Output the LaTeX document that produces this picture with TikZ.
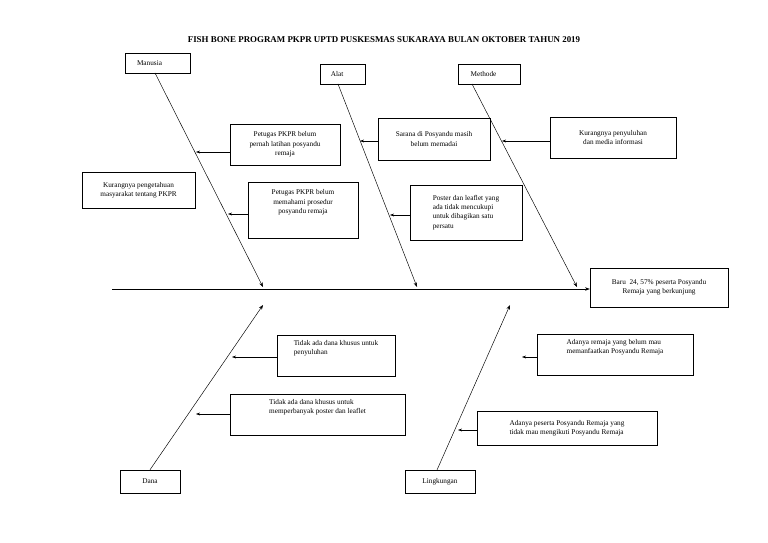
\documentclass[tikz,border=0pt]{standalone}
\usepackage{fontspec}
\setmainfont{Liberation Serif}
\usetikzlibrary{arrows.meta}
\tikzset{
  box/.style={draw,rectangle,inner sep=2pt,align=center,font=\fontsize{6.2}{8}\selectfont},
  bone/.style={-{Stealth[length=4pt,width=3pt]}},
  feed/.style={-{Stealth[length=3.5pt,width=2.5pt]}}
}
\begin{document}
\begin{tikzpicture}[x=0.03cm,y=-0.03cm]
  \useasboundingbox (0,0) rectangle (768,543);
  \node[font=\bfseries\fontsize{7.6}{9}\selectfont] (title) at (384,40) {FISH BONE PROGRAM PKPR UPTD PUSKESMAS SUKARAYA BULAN OKTOBER TAHUN 2019};
  % effect and spine
  \node[box,minimum width=138*0.03cm,minimum height=39*0.03cm] (effect) at (659,287.5) {Baru\ \ 24, 57\% peserta Posyandu\\Remaja yang berkunjung};
  \coordinate (tail) at (112,289);
  \draw[bone] (tail) -- (effect.west |- tail);
  % categories
  \node[box,minimum width=65*0.03cm,minimum height=20*0.03cm,align=left] (manusia) at (157.5,63) {Manusia\hspace{2.2em}};
  \node[box,minimum width=45*0.03cm,minimum height=20*0.03cm,align=left] (alat) at (342.5,74) {Alat\hspace{1.5em}};
  \node[box,minimum width=62*0.03cm,minimum height=20*0.03cm,align=left] (methode) at (489,74) {Methode\hspace{1.5em}};
  \node[box,minimum width=60*0.03cm,minimum height=23*0.03cm] (dana) at (150,481.5) {Dana};
  \node[box,minimum width=70*0.03cm,minimum height=23*0.03cm] (lingkungan) at (440,481.5) {Lingkungan};
  \coordinate (m1) at (263,287);
  \coordinate (a1) at (417,287);
  \coordinate (t1) at (577,287);
  \coordinate (d1) at (263,305);
  \coordinate (l1) at (510,305);
  \draw[bone] (155,73) -- (m1);
  \draw[bone] (338,84) -- (a1);
  \draw[bone] (472,84) -- (t1);
  \draw[bone] (dana.north) -- (d1);
  \draw[bone] (437,470) -- (l1);
  % causes
  \node[box,minimum width=110*0.03cm,minimum height=41*0.03cm] (c1) at (285,144.5) {Petugas PKPR belum\\pernah latihan posyandu\\remaja};
  \node[box,minimum width=113*0.03cm,minimum height=36*0.03cm] (c2) at (138.5,190) {Kurangnya pengetahuan\\masyarakat tentang PKPR};
  \node[box,minimum width=110*0.03cm,minimum height=56*0.03cm] (c3) at (303,210) {Petugas PKPR belum\\memahami prosedur\\posyandu remaja\\[6pt]};
  \node[box,minimum width=112*0.03cm,minimum height=42*0.03cm] (c4) at (434,139) {Sarana di Posyandu masih\\belum memadai};
  \node[box,minimum width=126*0.03cm,minimum height=41*0.03cm] (c5) at (613,137.5) {Kurangnya penyuluhan\\dan media informasi};
  \node[box,minimum width=112*0.03cm,minimum height=55*0.03cm,align=left] (c6) at (466,212.5) {Poster dan leaflet yang\\ada tidak mencukupi\\untuk dibagikan satu\\persatu};
  \node[box,minimum width=118*0.03cm,minimum height=41*0.03cm,align=left] (c7) at (336,355.5) {Tidak ada dana khusus untuk\\penyuluhan\\[6pt]};
  \node[box,minimum width=175*0.03cm,minimum height=41*0.03cm,align=left] (c8) at (317.5,414.5) {Tidak ada dana khusus untuk\\memperbanyak poster dan leaflet\\[6pt]};
  \node[box,minimum width=156*0.03cm,minimum height=41*0.03cm,align=left] (c9) at (615,354.5) {Adanya remaja yang belum mau\\memanfaatkan Posyandu Remaja\\[6pt]};
  \node[box,minimum width=180*0.03cm,minimum height=34*0.03cm,align=left] (c10) at (567,428) {Adanya peserta Posyandu Remaja yang\\tidak mau mengikuti Posyandu Remaja};
  \coordinate (e1) at (196,152);
  \coordinate (e3) at (228,214);
  \coordinate (e4) at (360,141);
  \coordinate (e5) at (502,141);
  \coordinate (e6) at (390,215);
  \coordinate (e7) at (232,357);
  \coordinate (e8) at (196,414);
  \coordinate (e9) at (522,357);
  \coordinate (e10) at (458,430);
  \draw[feed] (c1.west |- e1) -- (e1);
  \draw[feed] (c3.west |- e3) -- (e3);
  \draw[feed] (c4.west |- e4) -- (e4);
  \draw[feed] (c5.west |- e5) -- (e5);
  \draw[feed] (c6.west |- e6) -- (e6);
  \draw[feed] (c7.west |- e7) -- (e7);
  \draw[feed] (c8.west |- e8) -- (e8);
  \draw[feed] (c9.west |- e9) -- (e9);
  \draw[feed] (c10.west |- e10) -- (e10);
\end{tikzpicture}
\end{document}
